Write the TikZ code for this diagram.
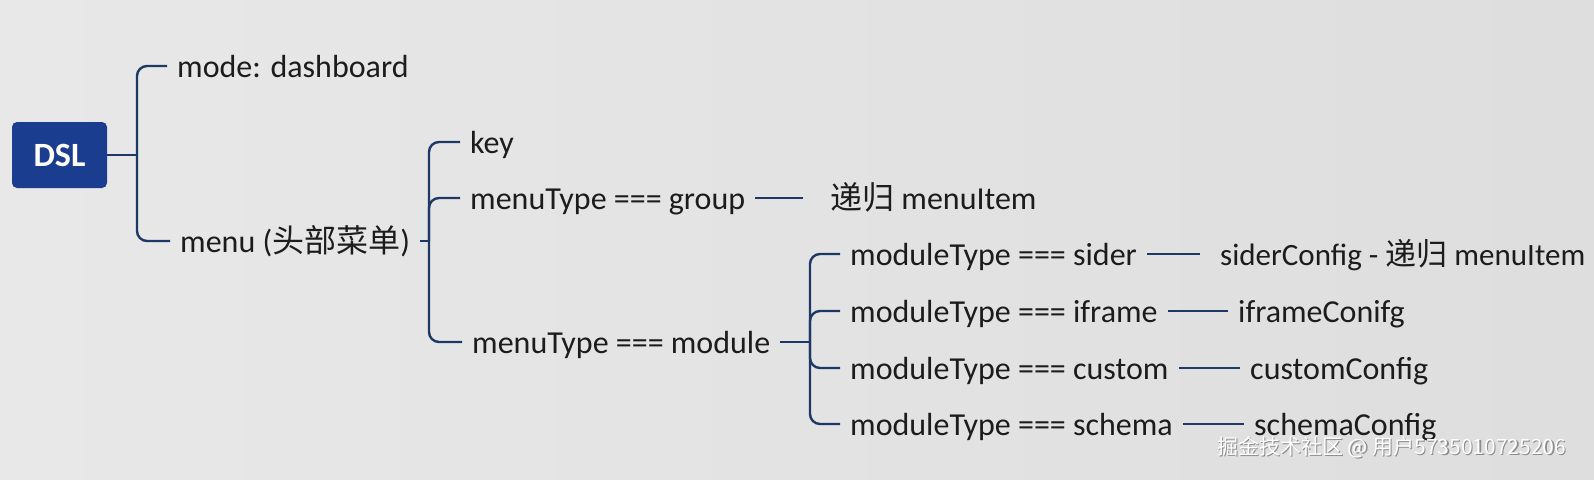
\documentclass[tikz,border=0pt]{standalone}
\usepackage{fontspec}
\setmainfont{Carlito}
\newfontfamily\cjk{Noto Sans CJK SC}
\usetikzlibrary{shadings}
\definecolor{navy}{HTML}{1B3D8F}
\definecolor{wire}{HTML}{1E3866}
\definecolor{ink}{HTML}{1C1C1C}
\tikzset{
  txt/.style={anchor=west, inner xsep=10pt, inner ysep=0pt, text height=27pt, text depth=5pt,
              font=\fontsize{32}{32}\selectfont, text=ink},
  wirel/.style={draw=wire, line width=2.4pt, rounded corners=10pt},
  dslbox/.style={fill=navy, rounded corners=5pt, minimum width=95pt, minimum height=66pt,
                 text=white, font=\fontsize{34}{34}\selectfont\bfseries, inner sep=0pt},
  wmark/.style={anchor=west, inner sep=0pt, font=\cjk\fontsize{21}{21}\selectfont}
}
\begin{document}
\begin{tikzpicture}[x=1pt,y=-1pt]
\useasboundingbox (0,0) rectangle (1594,479);
\shade[left color=black!9, middle color=black!4, right color=black!13] (0,0) rectangle (1594,479);

\node[dslbox] (dsl) at (59.5,155) {DSL};

\coordinate (t1) at (137,155);
\node[txt] (mode) at (167,66) {mode: dashboard};
\node[txt] (menu) at (170,241) {menu ({\cjk 头部菜单})};

\coordinate (t2) at (429,241);
\node[txt] (key) at (460,142) {key};
\node[txt] (group) at (460,198) {menuType === group};
\node[txt] (rec) at (820,198) {{\cjk 递归} menuItem};
\node[txt] (module) at (462,342) {menuType === module};

\coordinate (t3) at (810,342);
\node[txt] (sider) at (840,254) {moduleType === sider};
\node[txt, font=\fontsize{31}{31}\selectfont] (siderc) at (1210,254) {siderConfig - {\cjk 递归} menuItem};
\node[txt] (iframe) at (840,311) {moduleType === iframe};
\node[txt] (iframec) at (1228,311) {iframeConifg};
\node[txt] (custom) at (840,368) {moduleType === custom};
\node[txt] (customc) at (1240,368) {customConfig};
\node[txt] (schema) at (840,424) {moduleType === schema};
\node[txt] (schemac) at (1244,424) {schemaConfig};

\draw[wirel] (dsl.east) -- (t1);
\draw[wirel] (t1) |- (mode.west);
\draw[wirel] (t1) |- (menu.west);
\draw[wirel] (menu.east) -- (t2);
\draw[wirel] (t2) |- (key.west);
\draw[wirel] (t2) |- (group.west);
\draw[wirel] (t2) |- (module.west);
\draw[wirel] (module.east) -- (t3);
\draw[wirel] (t3) |- (sider.west);
\draw[wirel] (t3) |- (iframe.west);
\draw[wirel] (t3) |- (custom.west);
\draw[wirel] (t3) |- (schema.west);
\draw[wirel, shorten >=17pt] (group.east) -- (rec.west);
\draw[wirel, shorten >=10pt] (sider.east) -- (siderc.west);
\draw[wirel] (iframe.east) -- (iframec.west);
\draw[wirel] (custom.east) -- (customc.west);
\draw[wirel] (schema.east) -- (schemac.west);

\node[wmark, text=black!45] (wms) at (1218.5,448.5) {掘金技术社区 @ 用户5735010725206};
\node[wmark, text=white] (wm) at (1217,447) {掘金技术社区 @ 用户5735010725206};
\end{tikzpicture}
\end{document}
